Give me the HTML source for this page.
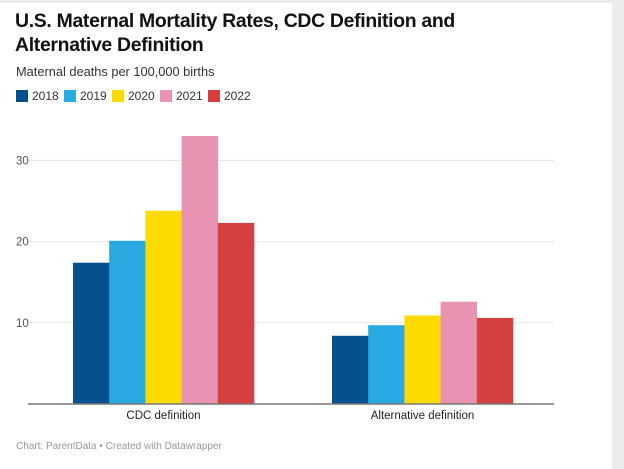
<!DOCTYPE html>
<html><head><meta charset="utf-8"><style>
body{margin:0;width:624px;height:469px;overflow:hidden;background:#fff;font-family:"Liberation Sans",Arial,sans-serif;position:relative}
#topbar{position:absolute;left:0;top:0;width:624px;height:3px;background:#ebebeb}
#rightbar{position:absolute;left:612px;top:0;width:12px;height:469px;background:#ececec}
h1{position:absolute;left:15px;top:9px;margin:0;font-size:19.4px;line-height:24px;font-weight:bold;color:#111;letter-spacing:-0.3px}
#sub{position:absolute;left:16px;top:64px;font-size:12.8px;color:#333}
#legend{position:absolute;left:16px;top:89px;font-size:12px;color:#333;display:flex}
.li{display:flex;align-items:center;width:48px}
.sw{width:12px;height:12px;margin-right:4px}
#foot{position:absolute;left:16px;top:441px;font-size:10px;color:#999}
</style></head><body>
<div id="topbar"></div>
<div id="rightbar"></div>
<h1>U.S. Maternal Mortality Rates, CDC Definition and<br>Alternative Definition</h1>
<div id="sub">Maternal deaths per 100,000 births</div>
<div id="legend"></div>
<svg id="chart" width="624" height="469" style="position:absolute;left:0;top:0"></svg>
<div id="foot">Chart: ParentData • Created with Datawrapper</div>
<script>
const categories=["CDC definition","Alternative definition"];
const years=["2018","2019","2020","2021","2022"];
const colors=["#07508e","#28a9e1","#fddb00","#e893b2","#d53f3f"];
const v2018=[17.4,8.4];
const v2019=[20.1,9.7];
const v2020=[23.8,10.9];
const v2021=[33.0,12.6];
const v2022=[22.3,10.6];
const series=[v2018,v2019,v2020,v2021,v2022];
const ticks=[10,20,30];
const NS="http://www.w3.org/2000/svg";
const svg=document.getElementById('chart');
const y=v=>404-v*8.12;
const groupStart=i=>73+i*259;
const bw=36.2;
function el(t,a){const e=document.createElementNS(NS,t);for(const k in a)e.setAttribute(k,a[k]);svg.appendChild(e);return e;}
ticks.forEach(t=>{
  const g=el('line',{x1:28,x2:554,y1:y(t),y2:y(t),stroke:'#e6e6e6','stroke-width':1});
  
  
  const tx=el('text',{x:16,y:y(t)+4,'font-size':11.5,fill:'#555'});
  tx.textContent=t;
  
  
});
categories.forEach((c,i)=>{
  series.forEach((s,j)=>{
    const r=el('rect',{x:groupStart(i)+j*bw,y:y(s[i]),width:bw+0.3,height:404-y(s[i]),fill:colors[j]});
    
    
  });
  const tx=el('text',{x:groupStart(i)+bw*2.5,y:419,'font-size':11.5,fill:'#222','text-anchor':'middle'});
  tx.textContent=c;
  
  
});
const base=el('line',{x1:28,x2:554,y1:404,y2:404,stroke:'#777','stroke-width':1.5});


const lg=document.getElementById('legend');
years.forEach((yr,j)=>{
  const d=document.createElement('div');d.className='li';
  d.innerHTML='<div class="sw" style="background:'+colors[j]+'"></div>'+yr;
  
  
  lg.appendChild(d);
});
</script>
</body></html>
